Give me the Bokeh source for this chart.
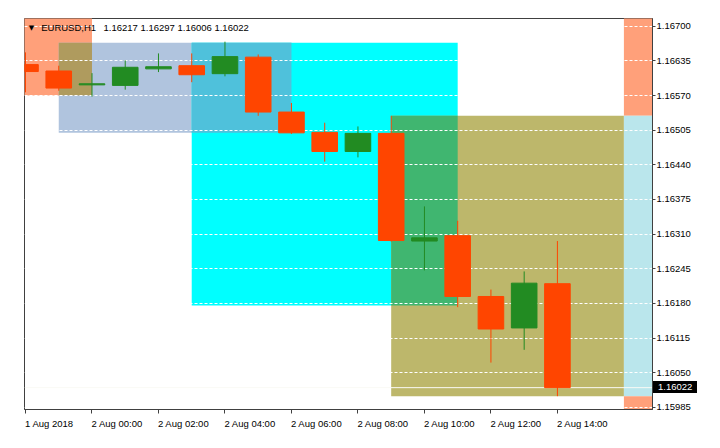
from bokeh.plotting import figure
from bokeh.models import FixedTicker, Range1d, Label, Span, PrintfTickFormatter, Div
from bokeh.layouts import column
from bokeh.embed import file_html
from bokeh.resources import INLINE

# ---------------- data ----------------
symbol = "EURUSD,H1"
# bar index 0 = 1 Aug 2018 22:00, one bar per hour
bar_idx = list(range(17))
opens = [1.16628, 1.16616, 1.16590, 1.16589, 1.16620, 1.16626, 1.16611, 1.16642, 1.16539,
         1.16501, 1.16465, 1.16499, 1.16297, 1.16307, 1.16193, 1.16134, 1.16217]
closes = [1.16615, 1.16584, 1.16592, 1.16623, 1.16624, 1.16609, 1.16643, 1.16539, 1.16500,
          1.16465, 1.16499, 1.16298, 1.16303, 1.16193, 1.16132, 1.16218, 1.16022]
highs = [1.16651, 1.16626, 1.16612, 1.16636, 1.16649, 1.16649, 1.16671, 1.16647, 1.16556,
         1.16519, 1.16512, 1.16532, 1.16362, 1.16335, 1.16206, 1.16240, 1.16297]
lows = [1.16576, 1.16579, 1.16568, 1.16581, 1.16614, 1.16595, 1.16606, 1.16532, 1.16498,
        1.16446, 1.16454, 1.16296, 1.16242, 1.16173, 1.16069, 1.16093, 1.16006]

time_tick_pos = [0, 2, 4, 6, 8, 10, 12, 14, 16]
time_tick_labels = ["1 Aug 2018", "2 Aug 00:00", "2 Aug 02:00", "2 Aug 04:00", "2 Aug 06:00",
                    "2 Aug 08:00", "2 Aug 10:00", "2 Aug 12:00", "2 Aug 14:00"]
price_ticks = [1.16700, 1.16635, 1.16570, 1.16505, 1.16440, 1.16375, 1.16310,
               1.16245, 1.16180, 1.16115, 1.16050, 1.15985]

# rectangle zones (bar index / price)
zone_left = [-2, 1, 5, 11, 18, 18, 18]
zone_right = [2, 8, 13, 18, 22, 22, 22]
zone_bottom = [1.16570, 1.16500, 1.16176, 1.16006, 1.16532, 1.16006, 1.15900]
zone_top = [1.16800, 1.16669, 1.16669, 1.16532, 1.16800, 1.16532, 1.16006]
zone_color = ["#FFA07A", "#B0C4DE", "#00FFFF", "#BDB76B", "#FFA07A", "#BAE6EC", "#FFA07A"]
overlap_pairs = [(0, 1, "#AF9B5E"), (1, 2, "#4FC1DB"), (2, 3, "#40B670")]

BULL = "#228B22"
BEAR = "#FF4500"
FONT = "Liberation Sans"
FS = 9.5

# ---------------- figure ----------------
X0, X1 = -0.03, 18.86
FW, FH = 628, 391
p = figure(output_backend="svg", toolbar_location=None, frame_width=FW, frame_height=FH,
           min_border_left=24, min_border_top=18, min_border_right=60, min_border_bottom=10,
           x_range=Range1d(X0, X1), y_range=Range1d(1.15981, 1.167145),
           y_axis_location="right", background_fill_color="white", border_fill_color="white")
p.outline_line_color = "#404040"
p.outline_line_width = 1

# zones
p.quad(left=zone_left, right=zone_right, bottom=zone_bottom, top=zone_top,
       fill_color=zone_color, line_color=None, level="image")
ol, orr, ob, ot, oc = [], [], [], [], []
for a, b, c in overlap_pairs:
    ol.append(max(zone_left[a], zone_left[b]))
    orr.append(min(zone_right[a], zone_right[b]))
    ob.append(max(zone_bottom[a], zone_bottom[b]))
    ot.append(min(zone_top[a], zone_top[b]))
    oc.append(c)
p.quad(left=ol, right=orr, bottom=ob, top=ot, fill_color=oc, line_color=None, level="image")

# bid line
p.add_layout(Span(location=closes[-1], dimension="width", line_color="#FAFAF5",
                  line_width=1, level="underlay"))

# candles
cols = [BULL if c >= o else BEAR for o, c in zip(opens, closes)]
p.segment(x0=bar_idx, y0=lows, x1=bar_idx, y1=highs, line_color=cols, line_width=1)
p.vbar(x=bar_idx, width=0.77, top=[max(o, c) for o, c in zip(opens, closes)],
       bottom=[min(o, c) for o, c in zip(opens, closes)], fill_color=cols, line_color=cols,
       line_width=1)

# grid
p.xgrid.visible = False
p.ygrid.ticker = FixedTicker(ticks=price_ticks)
p.ygrid.grid_line_color = "white"
p.ygrid.grid_line_dash = "3 2"
p.ygrid.grid_line_width = 1

# right axis
ya = p.yaxis[0]
ya.ticker = FixedTicker(ticks=price_ticks)
ya.formatter = PrintfTickFormatter(format="%.5f")
ya.axis_line_color = "#404040"
ya.major_tick_line_color = "#404040"
ya.major_tick_out = 3
ya.major_tick_in = 0
ya.minor_tick_line_color = None
ya.major_label_standoff = 1
ya.major_label_text_font = FONT
ya.major_label_text_font_size = f"{FS}px"
ya.major_label_text_color = "black"

# bottom axis: tick marks at the bar times (minor ticks), labels left-aligned
# at each tick (MT4 style) via shifted major positions with hidden major marks
CW = {"0": .556, "1": .556, "2": .556, "4": .556, "6": .556, "8": .556, " ": .278,
      "A": .667, "u": .556, "g": .556, ":": .278}
px_per_bar = FW / (X1 - X0)
lab_pos = []
for pos, lab in zip(time_tick_pos, time_tick_labels):
    w = sum(CW.get(ch, .556) for ch in lab) * FS
    lab_pos.append(pos + (w / 2 - 0.5) / px_per_bar)
xa = p.xaxis[0]
xa.ticker = FixedTicker(ticks=lab_pos, minor_ticks=time_tick_pos)
xa.major_label_overrides = {lp: lab for lp, lab in zip(lab_pos, time_tick_labels)}
xa.axis_line_color = "#404040"
xa.major_tick_line_color = None
xa.major_tick_out = 0
xa.major_tick_in = 0
xa.minor_tick_line_color = "#404040"
xa.minor_tick_out = 4
xa.minor_tick_in = 0
xa.major_label_standoff = 4
xa.major_label_text_font = FONT
xa.major_label_text_font_size = f"{FS}px"
xa.major_label_text_color = "black"

# header
p.add_layout(Label(x=7, y=FH - 9.3, x_units="screen", y_units="screen", text="\u25BC",
                   text_align="center", text_baseline="middle", text_font="DejaVu Sans",
                   text_font_size="7px", text_color="black"))
p.add_layout(Label(x=16.7, y=FH - 9.3, x_units="screen", y_units="screen", text=symbol,
                   text_align="left", text_baseline="middle", text_font=FONT,
                   text_font_size=f"{FS}px", text_color="black"))
hdr = " ".join(f"{v:.5f}" for v in (opens[-1], highs[-1], lows[-1], closes[-1]))
p.add_layout(Label(x=79, y=FH - 9.3, x_units="screen", y_units="screen", text=hdr,
                   text_align="left", text_baseline="middle", text_font=FONT,
                   text_font_size=f"{FS}px", text_color="black"))

# current price box on the price scale
price_box = Div(text=f"{closes[-1]:.5f}", margin=0,
                styles={"position": "absolute", "left": "653px", "top": "381px",
                        "background-color": "black", "color": "white",
                        "font-family": FONT, "font-size": f"{FS}px",
                        "line-height": "12px", "padding": "0px 5px 0px 5px"})

layout = column(p, price_box)
open("out.html", "w").write(file_html(layout, INLINE))
